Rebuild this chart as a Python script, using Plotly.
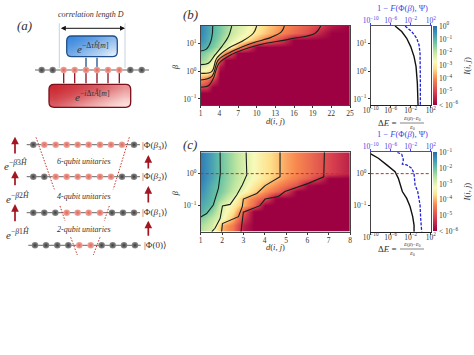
import plotly.graph_objects as go

W, H = 474, 355
SERIF = "Liberation Serif"
BLUE = "#4646e6"
DARK = "#333333"

# ---------- panel (b) heat map: log10 I(i,j) ----------
d_b = [1, 2, 3, 4, 5, 6, 7, 8, 10, 12, 14, 16, 18, 20, 22, 25]
log_beta_b = [1.62, 1.36, 1.12, 0.88, 0.64, 0.40, 0.16, -0.08, -0.32, -0.56, -0.80, -1.22]
z_b = [
    [-.35, -.7, -1.02, -1.35, -1.67, -2, -2.25, -2.5, -3, -3.45, -3.9, -4.27, -4.6, -4.95, -5.6, -6],
    [-.35, -.7, -1.04, -1.4, -1.78, -2.1, -2.36, -2.6, -3.12, -3.6, -4.06, -4.43, -4.8, -5.4, -6, -6],
    [-.5, -.8, -1.15, -1.6, -2.03, -2.37, -2.7, -3.03, -3.72, -4.37, -5, -6, -6, -6, -6, -6],
    [-.8, -1.02, -1.42, -1.84, -2.37, -3, -3.77, -4.5, -6, -6, -6, -6, -6, -6, -6, -6],
    [-1.3, -1.6, -1.9, -2.9, -4.25, -4.9, -6, -6, -6, -6, -6, -6, -6, -6, -6, -6],
    [-1.65, -1.88, -2.5, -4.67, -6, -6, -6, -6, -6, -6, -6, -6, -6, -6, -6, -6],
    [-2.25, -2.58, -2.95, -5.7, -6, -6, -6, -6, -6, -6, -6, -6, -6, -6, -6, -6],
    [-3, -3.05, -3.6, -6, -6, -6, -6, -6, -6, -6, -6, -6, -6, -6, -6, -6],
    [-4, -4.4, -5, -6, -6, -6, -6, -6, -6, -6, -6, -6, -6, -6, -6, -6],
    [-4.95, -5.1, -6, -6, -6, -6, -6, -6, -6, -6, -6, -6, -6, -6, -6, -6],
    [-6] * 16,
    [-6] * 16,
]
contours_b = [
    ([2.93, 2.88, 2.61, 1.96, 1.0], [1.62, 1.36, 1.06, 0.80, 0.72]),
    ([5.98, 5.45, 4.38, 3.3, 2.23, 1.0], [1.62, 1.24, 0.88, 0.58, 0.28, 0.23]),
    ([10, 9.46, 7.59, 5.45, 3.57, 2.77, 1.0], [1.62, 1.36, 1.06, 0.82, 0.46, -0.02, -0.08]),
    ([14.45, 14, 12.4, 9.2, 5.98, 3.84, 2.77, 1.0], [1.62, 1.42, 1.22, 1.0, 0.7, 0.4, -0.2, -0.32]),
    ([20.3, 19.4, 15.1, 10.3, 6, 3.95, 3.04, 2.23, 1.0], [1.62, 1.36, 1.14, 0.94, 0.6, 0.28, -0.26, -0.53, -0.58]),
]

# ---------- panel (c) heat map: log10 I(i,j) ----------
d_c = [1, 1.5, 2, 2.5, 3, 3.5, 4, 4.5, 5, 5.5, 6, 6.5, 7, 7.5, 8]
log_beta_c = [0.68, 0, -0.15, -0.36, -0.57, -0.79, -1.0, -1.21, -1.43, -1.64, -1.85]
z_c = [
    [-1.2, -1.63, -2.08, -2.5, -2.92, -3.25, -3.56, -3.86, -4.13, -4.37, -4.62, -4.86, -5.1, -5.35, -5.6],
    [-1.2, -1.63, -2.08, -2.5, -2.92, -3.25, -3.56, -3.86, -4.13, -4.37, -4.62, -4.86, -5.1, -5.35, -5.6],
    [-1.2, -1.65, -2.1, -2.52, -2.94, -3.28, -3.6, -3.96, -4.24, -4.52, -4.8, -5.2, -6, -6, -6],
    [-1.3, -1.8, -2.15, -2.6, -3.05, -3.5, -3.98, -4.3, -4.63, -4.95, -5.9, -6, -6, -6, -6],
    [-1.4, -1.85, -2.2, -2.7, -3.2, -3.75, -4.25, -4.65, -5.1, -6, -6, -6, -6, -6, -6],
    [-1.55, -1.9, -2.45, -3.05, -4.0, -4.45, -4.9, -6, -6, -6, -6, -6, -6, -6, -6],
    [-1.7, -1.98, -2.95, -3.45, -4.05, -4.66, -6, -6, -6, -6, -6, -6, -6, -6, -6],
    [-1.75, -2.3, -3.0, -3.6, -4.8, -6, -6, -6, -6, -6, -6, -6, -6, -6, -6],
    [-2.2, -2.65, -3.1, -3.97, -5.2, -6, -6, -6, -6, -6, -6, -6, -6, -6, -6],
    [-2.5, -2.85, -4.0, -4.5, -5.6, -6, -6, -6, -6, -6, -6, -6, -6, -6, -6],
    [-2.6, -3.0, -4.05, -4.55, -5.7, -6, -6, -6, -6, -6, -6, -6, -6, -6, -6],
]
contours_c = [
    ([1.91, 1.92, 1.83, 1.59, 1.28, 1.0], [0.68, 0, -0.47, -1.0, -1.27, -1.38]),
    ([3.13, 3.16, 2.95, 2.69, 2.38, 2.02, 1.91, 1.67, 1.52], [0.68, -0.04, -0.36, -0.68, -0.98, -1.03, -1.43, -1.74, -1.85]),
    ([4.72, 4.72, 4.02, 3.63, 3.0, 2.95, 2.77, 2.02, 1.98], [0.68, -0.1, -0.38, -0.63, -0.81, -1.05, -1.37, -1.59, -1.85]),
    ([6.8, 6.77, 6.05, 4.95, 4.64, 4.02, 3.78, 3.0, 2.89], [0.68, -0.1, -0.31, -0.57, -0.73, -0.81, -1.02, -1.23, -1.85]),
]

# ---------- right-hand curves (log10 values) ----------
dE_b_x = [-5.13, -3.8, -2.8, -2.0, -1.33, -0.93, -0.67, -0.53]
dE_b_y = [1.62, 1.42, 1.18, 0.88, 0.52, 0.16, -0.44, -1.22]
F_b_x = [-3.13, -1.8, -0.8, -0.33, -0.13, -0.07, -0.07, -0.07]
F_b_y = [1.62, 1.42, 1.18, 0.94, 0.64, 0.16, -0.44, -1.22]
dE_c_x = [-10, -8.47, -6.8, -5.13, -4.47, -4.13, -3.67, -2.8, -2.13, -1.6, -1.33, -1.33]
dE_c_y = [0.63, 0.49, 0.28, 0.06, -0.15, -0.36, -0.57, -0.79, -1.05, -1.37, -1.64, -1.85]
F_c_x = [-4.67, -3.8, -3.47, -3.67, -2.8, -1.8, -1.33, -1.13, -0.6, -0.13, 0, 0.2]
F_c_y = [0.68, 0.62, 0.44, 0.30, 0.28, 0.17, 0, -0.36, -0.57, -1.0, -1.43, -1.85]

# ---------- tick labels ----------
d_ticks_b = [1, 4, 7, 10, 13, 16, 19, 22, 25]
d_ticks_c = [1, 2, 3, 4, 5, 6, 7, 8]
beta_ticks_b = [1, 0, -1]
beta_ticks_c = [0, -1]
energy_ticks = [-10, -6, -2, 2]
cbar_ticks_b = [0, -1, -2, -3, -4, -5, -6]
cbar_ticks_c = [-1, -2, -3, -4, -5, -6]

# ---------- schematic chains ----------
chain_a_gray = [41.7, 52.7, 130.3, 141.7]
chain_a_red = [63.7, 74.7, 86, 97, 108, 119.3]
chain3_gray = [33.3, 134]
chain3_red = [44.3, 55.7, 66.7, 77.7, 88.7, 100, 111, 122]
chain2_gray = [33.3, 44.3, 122, 134]
chain2_red = [55.7, 66.7, 77.7, 88.7, 100, 111]
chain1_gray = [33.3, 44.3, 55.3, 112, 123, 134]
chain1_red = [66.7, 77.7, 88.7, 100]
chain0_gray = [35, 46, 57.3, 68.3, 101.7, 112.7, 124, 135]
chain0_red = [79.3, 90.7]
blue_box_shade = [[0, .1, .2, .35, .5], [.1, .2, .35, .5, .65], [.2, .35, .5, .65, .8], [.35, .5, .65, .8, 1]]
red_box_shade = [[0, .08, .16, .28, .42, .6], [.08, .16, .28, .42, .6, .75], [.16, .28, .42, .6, .75, .9], [.28, .42, .6, .75, .9, 1]]

SPECTRAL = [[0, "#9e0142"], [1/6, "#d8404e"], [2/6, "#f9894f"], [0.46, "#fee08b"], [0.55, "#f8fab8"],
            [0.67, "#c0e6a0"], [0.8, "#66c2a5"], [0.92, "#3a8fbc"], [1, "#2a6ca6"]]


def pow10(k):
    return "10<sup>%s</sup>" % (str(k).replace("-", "−"))


def dom_x(a, b):
    return [a / W, b / W]


def dom_y(a, b):
    return [1 - b / H, 1 - a / H]


fig = go.Figure()
TICKF = dict(family=SERIF, size=7.5, color=DARK)
HX0, HX1 = 200.7, 350
RX0, RX1 = 370.7, 430.7
BY0, BY1 = 26, 105
CY0, CY1 = 152.3, 231.7


def colorbar(ticks, y0, y1, last):
    txt = [pow10(t) for t in ticks]
    txt[-1] = "&lt; " + pow10(last)
    return dict(thickness=4, thicknessmode="pixels", len=y1 - y0, lenmode="pixels",
                x=433.3 / W, xanchor="left", y=1 - y0 / H, yanchor="top", xpad=0, ypad=0,
                outlinewidth=0, tickvals=ticks, ticktext=txt, ticks="", ticklen=0,
                tickfont=dict(family=SERIF, size=7.5, color=DARK))


fig.add_trace(go.Heatmap(x=d_b, y=log_beta_b[::-1], z=z_b[::-1], zmin=-6, zmax=0, zsmooth="best",
                         colorscale=SPECTRAL, colorbar=colorbar(cbar_ticks_b, BY0, BY1, -6),
                         xaxis="x", yaxis="y", hoverinfo="skip"))
for xs, ys in contours_b:
    fig.add_trace(go.Scatter(x=xs, y=ys, mode="lines", line=dict(color="#15201a", width=1.1, shape="spline"),
                             xaxis="x", yaxis="y", showlegend=False, hoverinfo="skip"))

fig.add_trace(go.Heatmap(x=d_c, y=log_beta_c[::-1], z=z_c[::-1], zmin=-6, zmax=-1, zsmooth="best",
                         colorscale=SPECTRAL, colorbar=colorbar(cbar_ticks_c, CY0, CY1, -6),
                         xaxis="x4", yaxis="y4", hoverinfo="skip"))
for xs, ys in contours_c:
    fig.add_trace(go.Scatter(x=xs, y=ys, mode="lines", line=dict(color="#15201a", width=1.1),
                             xaxis="x4", yaxis="y4", showlegend=False, hoverinfo="skip"))
fig.add_trace(go.Scatter(x=[1, 8], y=[0, 0], mode="lines", line=dict(color="#e0202a", width=1, dash="3px,2px"),
                         xaxis="x4", yaxis="y4", showlegend=False, hoverinfo="skip"))

for xa, ya, xt, bx, by, fx, fy in [("x2", "y2", "x3", dE_b_x, dE_b_y, F_b_x, F_b_y),
                                   ("x5", "y5", "x6", dE_c_x, dE_c_y, F_c_x, F_c_y)]:
    fig.add_trace(go.Scatter(x=bx, y=by, mode="lines", line=dict(color="#111111", width=1.4),
                             xaxis=xa, yaxis=ya, showlegend=False, hoverinfo="skip"))
    fig.add_trace(go.Scatter(x=fx, y=fy, mode="lines", line=dict(color="#2222d0", width=1.3, dash="3px,1.5px"),
                             xaxis=xt, yaxis=ya, showlegend=False, hoverinfo="skip"))
fig.add_trace(go.Scatter(x=[-10, 2], y=[0, 0], mode="lines", line=dict(color="#e0202a", width=1, dash="3px,2px"),
                         xaxis="x5", yaxis="y5", showlegend=False, hoverinfo="skip"))

# ---------- schematic overlay (figure-pixel axes) ----------
OV = dict(xaxis="x7", yaxis="y7", showlegend=False, hoverinfo="skip")


def seg(x0, y0, x1, y1, color, width, dash="solid"):
    fig.add_trace(go.Scatter(x=[x0, x1], y=[y0, y1], mode="lines",
                             line=dict(color=color, width=width, dash=dash), **OV))


def chain(gray, red, y, x0, x1):
    seg(x0, y, x1, y, "#555555", 0.9)
    fig.add_trace(go.Scatter(x=gray, y=[y] * len(gray), mode="markers",
                             marker=dict(size=6.5, color="#8c8c8c", gradient=dict(type="radial", color="#3c3c3c"), line_width=0), **OV))
    fig.add_trace(go.Scatter(x=red, y=[y] * len(red), mode="markers",
                             marker=dict(size=6.5, color="#f4a59b", gradient=dict(type="radial", color="#d9685c"), line_width=0), **OV))


# gradient fills of the two boxes
fig.add_trace(go.Heatmap(x=[66.7, 77, 87, 97, 107, 117.3], y=[36, 41, 46, 51, 56.7], z=blue_box_shade, zmin=0, zmax=1,
                         zsmooth="best", showscale=False, colorscale=[[0, "#3f8ade"], [1, "#e0ecf9"]], **OV))
fig.add_trace(go.Heatmap(x=[49, 62, 76, 90, 104, 117, 130.7], y=[84.3, 90, 96, 101, 107.3], z=red_box_shade, zmin=0, zmax=1,
                         zsmooth="best", showscale=False, colorscale=[[0, "#cc2a33"], [1, "#fcdedb"]], **OV))

seg(59.3, 23.3, 59.3, 68, "#b9c6d3", 0.8)
seg(125, 23.3, 125, 68, "#b9c6d3", 0.8)
for x in [86, 97]:
    seg(x, 56.7, x, 69, "#1d4f8c", 1.3)
for x in chain_a_red:
    seg(x, 71, x, 84.3, "#8b1020", 1.3)
chain(chain_a_gray, chain_a_red, 70, 35, 149)
chain(chain3_gray, chain3_red, 144.7, 26.7, 140)
chain(chain2_gray, chain2_red, 176.7, 26.7, 140)
chain(chain1_gray, chain1_red, 212.7, 26.7, 140)
chain(chain0_gray, chain0_red, 245.3, 28.3, 140.7)
RD = "#c0392b"
for a in [(36, 137.3, 54.3, 189.3), (129.3, 137.3, 113.3, 189.3), (60, 206, 65, 220.7), (109.3, 206, 104.3, 220.7),
          (70.7, 237.3, 77.3, 255), (100, 237.3, 93.3, 255)]:
    seg(a[0], a[1], a[2], a[3], RD, 1, "1.5px,1.5px")


def rounded(x0, y0, x1, y1, r):
    return (f"M{x0+r},{y0} L{x1-r},{y0} Q{x1},{y0} {x1},{y0+r} L{x1},{y1-r} Q{x1},{y1} {x1-r},{y1} "
            f"L{x0+r},{y1} Q{x0},{y1} {x0},{y1-r} L{x0},{y0+r} Q{x0},{y0} {x0+r},{y0} Z")


shapes = []
for (x0, y0, x1, y1, col) in [(66.7, 36, 117.3, 56.7, "#1d4f8c"), (49, 84.3, 130.7, 107.3, "#7a0f1a")]:
    outer = f"M{x0-1},{y0-1} L{x1+1},{y0-1} L{x1+1},{y1+1} L{x0-1},{y1+1} Z "
    shapes.append(dict(type="path", xref="x7", yref="y7", path=outer + rounded(x0, y0, x1, y1, 5), fillcolor="white",
                       fillrule="evenodd", line=dict(width=0), layer="above"))
    shapes.append(dict(type="path", xref="x7", yref="y7", path=rounded(x0, y0, x1, y1, 5), line=dict(color=col, width=1.3),
                       layer="above"))
for off in [0, 126]:
    shapes.append(dict(type="line", xref="x7", yref="y7", x0=400, x1=424, y0=123 + off, y1=123 + off,
                       line=dict(color=DARK, width=0.6), layer="above"))


def note(x, y, text, size=8, color=DARK, angle=0, anchor="center"):
    return dict(xref="x7", yref="y7", x=x, y=y, text=text, showarrow=False, textangle=angle, xanchor=anchor, yanchor="middle",
                font=dict(family=SERIF, size=size, color=color))


def arrow(x, y_tail, y_head):
    return dict(xref="x7", yref="y7", axref="x7", ayref="y7", x=x, y=y_head, ax=x, ay=y_tail, text="", showarrow=True,
                arrowhead=2, arrowsize=0.9, arrowwidth=1.7, arrowcolor="#a31621")


notes = [
    note(90.7, 14.7, "<i>correlation length D</i>", 8),
    note(24, 25, "<i>(a)</i>", 13),
    note(92, 47, "<i>e</i><sup>−Δ<i>τĥ</i>[<i>m</i>]</sup>", 11),
    note(92, 95, "<i>e</i><sup>−<i>i</i>Δ<i>τÂ</i>[<i>m</i>]</sup>", 11),
    note(84, 161, "<i>6-qubit unitaries</i>", 8),
    note(84, 196.7, "<i>4-qubit unitaries</i>", 8),
    note(84, 229, "<i>2-qubit unitaries</i>", 8),
    note(155, 145, "|Φ(<i>β</i><sub>3</sub>)⟩", 9),
    note(155, 176.7, "|Φ(<i>β</i><sub>2</sub>)⟩", 9),
    note(155, 212.7, "|Φ(<i>β</i><sub>1</sub>)⟩", 9),
    note(155.7, 245.3, "|Φ(0)⟩", 9),
    note(15.7, 164.3, "<i>e</i><sup>−<i>β</i>3<i>Ĥ</i></sup>", 11),
    note(17.7, 197.7, "<i>e</i><sup>−<i>β</i>2<i>Ĥ</i></sup>", 11),
    note(17.7, 233.3, "<i>e</i><sup>−<i>β</i>1<i>Ĥ</i></sup>", 11),
    note(190, 14, "<i>(b)</i>", 13),
    note(190, 144, "<i>(c)</i>", 13),
    note(175, 68, "<i>β</i>", 8, angle=-90),
    note(175, 194.3, "<i>β</i>", 8, angle=-90),
    note(275, 121, "<i>d</i>(<i>i, j</i>)", 8.5),
    note(275, 247, "<i>d</i>(<i>i, j</i>)", 8.5),
    note(402, 7.5, "1 − <i>F</i>(Φ(<i>β</i>), Ψ)", 8.5, BLUE),
    note(402, 133.5, "1 − <i>F</i>(Φ(<i>β</i>), Ψ)", 8.5, BLUE),
    note(466.7, 66, "<i>I</i>(<i>i, j</i>)", 8.5, angle=-90),
    note(466.7, 191.7, "<i>I</i>(<i>i, j</i>)", 8.5, angle=-90),
]
for off in [0, 126]:
    notes += [
        note(387, 123 + off, "Δ<i>E</i> =", 9),
        note(412, 119 + off, "<i>E</i>(<i>β</i>)−<i>E</i><sub>0</sub>", 5),
        note(412, 127.5 + off, "<i>E</i><sub>0</sub>", 5),
    ]
notes += [arrow(15, 25 + 130, 6.7 + 130), arrow(15, 56.7 + 130, 40.7 + 130), arrow(15, 92.7 + 130, 74 + 130),
          arrow(148.3, 40 + 130, 25 + 130), arrow(148.3, 74 + 130, 56 + 130), arrow(148.3, 107.3 + 130, 90.7 + 130)]
notes.append(dict(xref="x7", yref="y7", axref="x7", ayref="y7", x=125, y=28.3, ax=59.3, ay=28.3, text="", showarrow=True,
                  arrowhead=2, startarrowhead=2, arrowside="end+start", arrowsize=1, arrowwidth=1, arrowcolor="#111111"))


def heat_x(dom, ticks, rng, anchor):
    return dict(domain=dom, range=rng, tickvals=ticks, ticktext=[str(t) for t in ticks], ticks="outside", ticklen=2, tickwidth=0.6,
                tickcolor=DARK, showline=True, linecolor="#444444", linewidth=0.6, mirror=True, showgrid=False, zeroline=False,
                tickfont=TICKF, anchor=anchor, ticklabelstandoff=-1)


def log_y(dom, ticks, rng, anchor):
    return dict(domain=dom, range=rng, tickvals=ticks, ticktext=[pow10(t) for t in ticks], ticks="outside", ticklen=2, tickwidth=0.6,
                tickcolor=DARK, showline=True, linecolor="#444444", linewidth=0.6, mirror=True, showgrid=False, zeroline=False, tickfont=TICKF,
                anchor=anchor)


def en_x(dom, anchor):
    return dict(domain=dom, range=[-10, 2], tickvals=energy_ticks, ticktext=[pow10(t) for t in energy_ticks], ticks="outside", ticklen=2,
                tickwidth=0.6, tickcolor=DARK, showline=True, linecolor="#222222", linewidth=0.8, showgrid=False, zeroline=False,
                tickfont=TICKF, anchor=anchor, ticklabelstandoff=-4)


def top_x(dom, over, anchor):
    return dict(domain=dom, range=[-10, 2], tickvals=energy_ticks, ticktext=[pow10(t) for t in energy_ticks], ticks="outside", ticklen=2,
                tickwidth=0.6, tickcolor=BLUE, showline=True, linecolor=BLUE, linewidth=0.8, showgrid=False, zeroline=False,
                tickfont=dict(family=SERIF, size=7.5, color=BLUE), side="top", overlaying=over, anchor=anchor, ticklabelstandoff=-3)


fig.update_layout(
    width=W, height=H, margin=dict(l=0, r=0, t=0, b=0, autoexpand=False), paper_bgcolor="white", plot_bgcolor="rgba(0,0,0,0)",
    showlegend=False, font=dict(family=SERIF),
    xaxis=heat_x(dom_x(HX0, HX1), d_ticks_b, [1, 25], "y"),
    yaxis=log_y(dom_y(BY0, BY1), beta_ticks_b, [-1.22, 1.62], "x"),
    xaxis2=en_x(dom_x(RX0, RX1), "y2"),
    yaxis2=log_y(dom_y(BY0, BY1), beta_ticks_b, [-1.22, 1.62], "x2"),
    xaxis3=top_x(dom_x(RX0, RX1), "x2", "y2"),
    xaxis4=heat_x(dom_x(HX0, HX1), d_ticks_c, [1, 8], "y4"),
    yaxis4=log_y(dom_y(CY0, CY1), beta_ticks_c, [-1.85, 0.68], "x4"),
    xaxis5=en_x(dom_x(RX0, RX1), "y5"),
    yaxis5=log_y(dom_y(CY0, CY1), beta_ticks_c, [-1.85, 0.68], "x5"),
    xaxis6=top_x(dom_x(RX0, RX1), "x5", "y5"),
    xaxis7=dict(domain=[0, 1], range=[0, W], visible=False, fixedrange=True),
    yaxis7=dict(domain=[0, 1], range=[H, 0], visible=False, fixedrange=True, anchor="x7"),
    shapes=shapes, annotations=notes,
)
fig.write_html("out.html", config=dict(displayModeBar=False),
               post_script="document.body.style.margin='0';document.body.style.overflow='hidden';")
